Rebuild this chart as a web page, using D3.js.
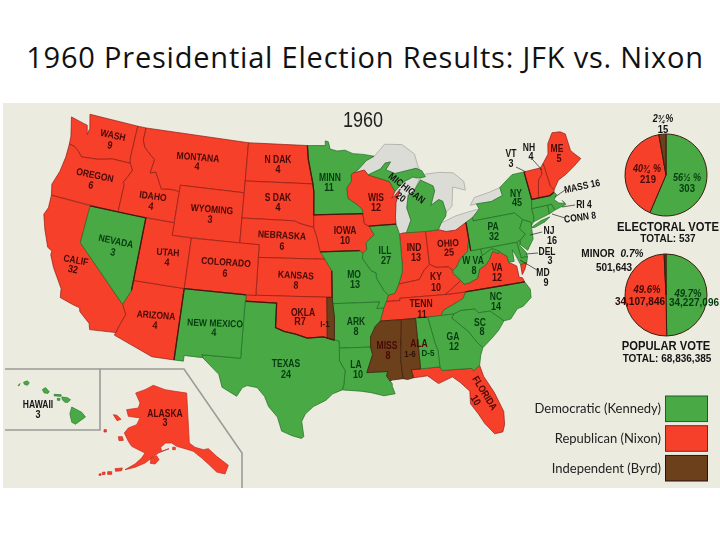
<!DOCTYPE html>
<html>
<head>
<meta charset="utf-8">
<script src="https://cdn.jsdelivr.net/npm/d3@7"></script>
<style>
body { margin: 0; background: #fff; }
svg { display: block; }
text { font-family: "Liberation Sans", sans-serif; }
</style>
</head>
<body>
<svg width="720" height="540"></svg>
<script>
// state outlines, [lon, lat]
const WA = [[-124.7,48.38],[-124.1,46.9],[-124,46.27],[-123.4,46.2],[-122.8,45.9],[-122.3,45.55],[-121.2,45.65],[-120.5,45.7],[-119.3,45.93],[-118.98,46],[-116.92,45.99],[-117.04,46.42],[-117.03,49],[-122.75,49],[-122.3,47.9],[-122.4,47.4],[-122.7,48.1],[-123.1,48.15]];
const OR = [[-124,46.27],[-123.95,45.2],[-124.1,44],[-124.5,42.84],[-124.2,42],[-117.03,42],[-117.03,44.25],[-117.2,44.4],[-116.85,44.9],[-116.5,45.5],[-116.92,45.99],[-118.98,46],[-119.3,45.93],[-120.5,45.7],[-121.2,45.65],[-122.3,45.55],[-122.8,45.9],[-123.4,46.2]];
const ID = [[-117.03,49],[-116.05,49],[-116.05,48],[-115.7,47.45],[-114.8,46.9],[-114.35,46.65],[-114.55,45.55],[-113.95,45.7],[-113.45,45.05],[-113,44.45],[-112.3,44.55],[-111.5,44.55],[-111.05,44.48],[-111.05,42],[-117.03,42],[-117.03,44.25],[-117.2,44.4],[-116.85,44.9],[-116.5,45.5],[-116.92,45.99],[-117.04,46.42]];
const MT = [[-116.05,49],[-104.05,49],[-104.05,45],[-111.05,45],[-111.05,44.48],[-111.5,44.55],[-112.3,44.55],[-113,44.45],[-113.45,45.05],[-113.95,45.7],[-114.55,45.55],[-114.35,46.65],[-114.8,46.9],[-115.7,47.45],[-116.05,48]];
const WY = [[-111.05,45],[-104.05,45],[-104.05,41],[-111.05,41]];
const ND = [[-104.05,49],[-97.23,49],[-97.1,47.9],[-96.85,47],[-96.56,45.94],[-104.05,45.94]];
const SD = [[-104.05,45.94],[-96.56,45.94],[-96.45,45.3],[-96.45,43.5],[-96.45,42.5],[-97.9,42.8],[-98.5,43],[-104.05,43]];
const NE = [[-104.05,43],[-98.5,43],[-97.9,42.8],[-96.45,42.5],[-96.1,41.7],[-95.9,41],[-95.3,40],[-102.05,40],[-102.05,41],[-104.05,41]];
const KS = [[-102.05,40],[-95.3,40],[-94.62,39.1],[-94.62,37],[-102.05,37]];
const OK = [[-103,37],[-94.62,37],[-94.43,35.4],[-94.48,33.64],[-95.5,33.9],[-97,33.8],[-98.1,34.1],[-99.2,34.3],[-100,34.56],[-100,36.5],[-103,36.5]];
const OKByrd = [[-95.15,37],[-94.62,37],[-94.43,35.4],[-94.48,33.64],[-95.15,33.8]];
const TX = [[-103.04,36.5],[-100,36.5],[-100,34.56],[-99.2,34.3],[-98.1,34.1],[-97,33.8],[-95.5,33.9],[-94.48,33.64],[-94.04,33.55],[-94.04,31.99],[-93.55,31.2],[-93.7,30.1],[-93.85,29.7],[-94.7,29.4],[-95.3,28.9],[-96.4,28.4],[-97.1,27.8],[-97.4,27.2],[-97.2,26],[-97.4,25.85],[-98.2,26.05],[-99.1,26.4],[-99.5,27.5],[-100.3,28.3],[-100.7,29.1],[-101.4,29.77],[-102.3,29.88],[-102.7,29.7],[-103.15,28.98],[-104.5,29.6],[-104.9,30.6],[-106.5,31.78],[-106.6,32],[-103.06,32]];
const NM = [[-109.05,37],[-103,37],[-103,36.5],[-103.04,36.5],[-103.06,32],[-106.6,32],[-106.5,31.78],[-108.2,31.78],[-108.2,31.33],[-109.05,31.33]];
const AZ = [[-114.05,37],[-109.05,37],[-109.05,31.33],[-111.07,31.33],[-114.8,32.5],[-114.72,32.72],[-114.5,33.4],[-114.15,34.27],[-114.63,35],[-114.05,36.2]];
const UT = [[-114.05,42],[-111.05,42],[-111.05,41],[-109.05,41],[-109.05,37],[-114.05,37]];
const CO = [[-109.05,41],[-102.05,41],[-102.05,37],[-109.05,37]];
const NV = [[-120,42],[-114.05,42],[-114.05,36.2],[-114.63,35],[-120,39]];
const CA = [[-124.2,42],[-120,42],[-120,39],[-114.63,35],[-114.15,34.27],[-114.5,33.4],[-114.72,32.72],[-117.12,32.53],[-117.3,33],[-118.4,33.75],[-118.5,34.03],[-119.2,34.15],[-120.5,34.45],[-120.65,35.15],[-121.9,36.6],[-122.5,37.5],[-122.5,37.8],[-123,38],[-123.8,39.3],[-124.35,40.4],[-124.1,41]];
const MN = [[-97.23,49],[-95.15,49],[-95.15,49.38],[-94.8,49.3],[-94.6,48.72],[-93.8,48.55],[-92.9,48.6],[-92,48.3],[-90.8,48.2],[-89.6,48],[-90.5,47.7],[-91.5,47],[-92.1,46.75],[-92.3,46.66],[-92.3,46.1],[-92.85,45.6],[-92.75,44.75],[-91.9,44.3],[-91.25,43.85],[-91.22,43.5],[-96.45,43.5],[-96.45,45.3],[-96.56,45.94],[-96.85,47],[-97.1,47.9]];
const IA = [[-96.45,43.5],[-91.22,43.5],[-91.1,42.7],[-90.64,42.5],[-90.15,41.8],[-91.05,41.2],[-91,40.7],[-91.42,40.38],[-91.73,40.61],[-95.77,40.58],[-95.9,41],[-96.1,41.7],[-96.45,42.5]];
const MO = [[-95.77,40.58],[-91.73,40.61],[-91.42,40.38],[-91.5,40],[-90.7,39],[-90.2,38.8],[-90.2,38.4],[-89.5,37.3],[-89.15,37],[-89.4,36.5],[-89.7,36],[-90.37,36],[-90.05,36.5],[-94.62,36.5],[-94.62,39.1],[-95.3,40]];
const AR = [[-94.62,36.5],[-90.05,36.5],[-90.37,36],[-89.7,36],[-90.1,35],[-90.6,34.6],[-91.1,33.8],[-91.15,33],[-94.04,33],[-94.04,33.55],[-94.48,33.64],[-94.43,35.4]];
const LA = [[-94.04,33],[-91.15,33],[-91,32.4],[-91.6,31],[-89.73,31],[-89.85,30.65],[-89.55,30.2],[-89.4,30.05],[-89.4,29.8],[-89.2,29.2],[-90.2,29.1],[-91.3,29.4],[-92.2,29.55],[-93.85,29.7],[-93.7,30.1],[-93.55,31.2],[-94.04,31.99]];
const MS = [[-90.1,35],[-88.2,35],[-88.1,34.9],[-88.47,31.9],[-88.4,30.35],[-89.4,30.3],[-89.55,30.2],[-89.85,30.65],[-89.73,31],[-91.6,31],[-91,32.4],[-91.15,33],[-91.1,33.8],[-90.6,34.6]];
const ALByrd = [[-88.2,35],[-86.75,35],[-86.75,31],[-87.6,31],[-87.45,30.35],[-88,30.25],[-88.4,30.35],[-88.47,31.9],[-88.1,34.9]];
const ALKennedy = [[-86.75,35],[-85.6,35],[-85.18,32.87],[-85,32.3],[-85,31],[-86.75,31]];
const GA = [[-85.6,35],[-83.1,35],[-83.35,34.7],[-82,33.5],[-81.4,32.6],[-80.9,32.05],[-81.2,31.5],[-81.45,30.72],[-82.05,30.36],[-82.2,30.57],[-84.86,30.7],[-85,31],[-85,32.3],[-85.18,32.87]];
const FL = [[-87.6,31],[-85,31],[-84.86,30.7],[-82.2,30.57],[-82.05,30.36],[-81.45,30.72],[-81.25,29.8],[-80.55,28.4],[-80.03,26.8],[-80.15,25.75],[-80.4,25.2],[-81.1,25.15],[-81.8,26.1],[-82.2,26.9],[-82.75,27.8],[-82.65,28.8],[-83.4,29.6],[-84,30.1],[-85.3,29.7],[-86.2,30.4],[-87.45,30.35]];
const SC = [[-83.1,35],[-82.4,35.2],[-81.05,35.15],[-80.8,34.82],[-79.67,34.8],[-78.55,33.86],[-79.2,33.2],[-79.9,32.7],[-80.9,32.05],[-81.4,32.6],[-82,33.5],[-83.35,34.7]];
const NC = [[-84.32,35],[-83.1,35],[-82.4,35.2],[-81.05,35.15],[-80.8,34.82],[-79.67,34.8],[-78.55,33.86],[-77.9,33.9],[-77.1,34.6],[-76.5,34.7],[-75.6,35.25],[-75.5,35.9],[-75.87,36.55],[-81.68,36.59],[-82,36.1],[-83,35.75],[-84,35.4]];
const TN = [[-90.1,35],[-88.2,35],[-85.6,35],[-84.32,35],[-84,35.4],[-83,35.75],[-82,36.1],[-81.68,36.59],[-83.68,36.6],[-88.07,36.68],[-88.07,36.5],[-89.4,36.5],[-89.7,36]];
const KY = [[-89.4,36.5],[-88.07,36.5],[-88.07,36.68],[-83.68,36.6],[-82.9,37],[-81.96,37.54],[-82.6,38.17],[-82.6,38.4],[-83,38.72],[-84.2,38.8],[-84.82,39.1],[-85.4,38.7],[-86,38],[-87,37.9],[-88.05,37.8],[-88.5,37.1],[-89.15,37]];
const WV = [[-82.6,38.4],[-82.6,38.17],[-81.96,37.54],[-81.7,37.2],[-81.2,37.25],[-80.3,37.5],[-79.95,38.2],[-79.3,38.42],[-78.85,38.77],[-78.35,39.4],[-77.83,39.13],[-77.72,39.32],[-78.4,39.62],[-79.48,39.2],[-79.48,39.72],[-80.52,39.72],[-80.52,40.64],[-80.85,39.7],[-81.7,39.2],[-82.2,38.6]];
const VA = [[-83.68,36.6],[-81.68,36.59],[-75.87,36.55],[-76,36.9],[-76.3,37],[-76.3,37.9],[-77,38.3],[-77.05,38.8],[-77.5,39.1],[-77.72,39.32],[-77.83,39.13],[-78.35,39.4],[-78.85,38.77],[-79.3,38.42],[-79.95,38.2],[-80.3,37.5],[-81.2,37.25],[-81.7,37.2],[-81.96,37.54],[-82.9,37]];
const VATail = [[-75.95,37.15],[-75.9,37.95],[-75.25,38.03],[-75.6,37.5]];
const OH = [[-84.82,39.1],[-84.2,38.8],[-83,38.72],[-82.6,38.4],[-82.2,38.6],[-81.7,39.2],[-80.85,39.7],[-80.52,40.64],[-80.52,41.98],[-81.7,41.5],[-82.7,41.5],[-83.47,41.72],[-84.8,41.7]];
const IN = [[-88.05,37.8],[-87,37.9],[-86,38],[-85.4,38.7],[-84.82,39.1],[-84.8,41.76],[-87.2,41.76],[-87.53,41.7],[-87.53,39.35],[-87.6,38.7]];
const IL = [[-91.5,40],[-91.42,40.38],[-91,40.7],[-91.05,41.2],[-90.15,41.8],[-90.64,42.5],[-87.8,42.5],[-87.53,41.7],[-87.53,39.35],[-87.6,38.7],[-88.05,37.8],[-88.5,37.1],[-89.15,37],[-89.5,37.3],[-90.2,38.4],[-90.2,38.8],[-90.7,39]];
const WI = [[-92.3,46.66],[-92.1,46.75],[-90.8,46.95],[-90.4,46.55],[-88.1,45.9],[-87.6,45.1],[-88,44.55],[-87.6,44.8],[-87,45.25],[-87.6,44.2],[-87.8,43],[-87.8,42.5],[-90.64,42.5],[-91.1,42.7],[-91.22,43.5],[-91.25,43.85],[-91.9,44.3],[-92.75,44.75],[-92.85,45.6],[-92.3,46.1]];
const MILower = [[-84.8,41.7],[-83.47,41.72],[-83.1,42.2],[-82.5,42.7],[-82.4,43],[-82.6,43.9],[-83,44.07],[-83.9,43.7],[-83.3,44.8],[-83.4,45.2],[-84.7,45.78],[-85.5,45],[-86.2,44.7],[-86.5,43.7],[-86.2,42.7],[-86.8,41.76]];
const MIUpper = [[-90.4,46.55],[-89,46.95],[-88.4,47.4],[-87.8,47.45],[-88.4,46.85],[-87.4,46.5],[-85,46.75],[-84.4,46.5],[-84.1,46],[-84.7,45.95],[-85.5,46.08],[-86.5,45.8],[-87.6,45.1],[-88.1,45.9]];
const NY = [[-79.76,42.27],[-79.76,42],[-75.35,42],[-74.7,41.36],[-73.9,41],[-74,40.7],[-73.65,41],[-73.5,41.3],[-73.5,42.05],[-73.27,42.75],[-73.35,45],[-74.7,45],[-76.3,44.2],[-76.2,43.55],[-77.5,43.25],[-79.1,43.28],[-78.9,42.85]];
const LongIsland = [[-74,40.6],[-72.9,40.95],[-71.9,41.08],[-72.5,40.8],[-73.7,40.55]];
const PA = [[-80.52,41.98],[-79.76,42.27],[-79.76,42],[-75.35,42],[-74.7,41.36],[-75.2,40.7],[-74.75,40.2],[-75.4,39.82],[-75.8,39.72],[-80.52,39.72]];
const NJ = [[-74.7,41.36],[-73.9,41],[-74,40.5],[-74.1,39.7],[-74.9,38.93],[-75.5,39.5],[-75.4,39.82],[-74.75,40.2],[-75.2,40.7]];
const DE = [[-75.8,39.72],[-75.4,39.82],[-75.55,39.4],[-75.1,38.8],[-75.05,38.45],[-75.7,38.45]];
const MD = [[-79.48,39.72],[-75.8,39.72],[-75.7,38.45],[-75.05,38.45],[-75.25,38.03],[-75.9,37.95],[-76.2,38.8],[-76.4,39.2],[-76.45,38.3],[-77,38.3],[-77.05,38.8],[-77.5,39.1],[-77.72,39.32],[-78.4,39.62],[-79.48,39.2]];
const CT = [[-73.5,42.05],[-71.8,42.02],[-71.85,41.32],[-73.65,41],[-73.5,41.3]];
const RI = [[-71.8,42.02],[-71.38,42.02],[-71.2,41.5],[-71.85,41.32]];
const MA = [[-73.5,42.05],[-73.27,42.75],[-71.3,42.7],[-70.8,42.87],[-70.6,42.65],[-71,42.3],[-70.6,41.95],[-70,41.8],[-70.2,42.08],[-69.95,41.7],[-70.6,41.6],[-71.2,41.5],[-71.38,42.02],[-71.8,42.02]];
const VT = [[-73.35,45],[-71.5,45],[-71.5,44.5],[-72.05,44.1],[-72.45,43],[-72.46,42.73],[-73.27,42.75]];
const NH = [[-71.5,45],[-71.08,45.3],[-70.98,43.4],[-70.7,43.07],[-70.8,42.87],[-71.3,42.7],[-72.46,42.73],[-72.45,43],[-72.05,44.1],[-71.5,44.5]];
const ME = [[-71.08,45.3],[-70.3,45.9],[-70,46.7],[-69.2,47.45],[-68.3,47.35],[-67.8,47.07],[-67.8,45.7],[-67.45,45.3],[-67,44.85],[-68,44.4],[-69,44],[-70,43.7],[-70.7,43.07],[-70.98,43.4]];

// great lakes
const Superior = [[-92.1,46.75],[-90.8,46.95],[-90.4,46.55],[-89,46.95],[-88.4,47.4],[-87.8,47.45],[-88.4,46.85],[-87.4,46.5],[-85,46.75],[-84.6,46.5],[-84.8,47],[-85,47.9],[-86.3,48.75],[-88.3,48.9],[-89,48.4],[-89.6,48],[-90.5,47.7],[-91.5,47]];
const Michigan = [[-87.6,45.1],[-86.5,45.8],[-85.5,46.08],[-84.8,45.85],[-85.5,45],[-86.2,44.7],[-86.5,43.7],[-86.2,42.7],[-86.8,41.76],[-87.2,41.65],[-87.53,41.7],[-87.8,42.5],[-87.8,43],[-87.6,44.2],[-87,45.25],[-87.6,44.8],[-88,44.55]];
const Huron = [[-84.7,45.78],[-83.4,45.2],[-83.3,44.8],[-83.9,43.7],[-83,44.07],[-82.6,43.9],[-82.4,43],[-81.7,43.4],[-81.3,44.9],[-80,44.5],[-80,45.2],[-81,46],[-82.5,46.2],[-84,46.2],[-84.7,45.95]];
const Erie = [[-83.47,41.72],[-82.7,41.5],[-81.7,41.5],[-80.52,41.98],[-79.76,42.27],[-78.9,42.85],[-80.2,42.75],[-81.5,42.6],[-83.1,42.2]];
const Ontario = [[-79.75,43.25],[-79.1,43.28],[-77.5,43.25],[-76.2,43.55],[-76.3,44.2],[-77.5,44],[-79.2,43.8]];

// alaska is printed distorted, so it is traced on its own 420 x 300 grid
const Alaska = [[150,35],[175,22],[210,35],[240,40],[275,45],[283,195],[300,208],[325,215],[340,212],[365,235],[400,262],[390,288],[365,282],[340,258],[320,240],[295,220],[270,212],[245,205],[230,195],[212,195],[197,208],[200,220],[222,212],[190,225],[170,240],[150,255],[120,268],[90,275],[120,258],[140,240],[150,225],[130,215],[110,205],[100,190],[88,165],[100,150],[125,140],[135,120],[100,115],[95,95],[130,90],[135,75],[122,45]];
const Kodiak = [[168,240],[185,233],[192,245],[180,258],[166,256]];
const Nunivak = [[70,176],[82,176],[85,187],[72,188]];
const StLawrence = [[55,110],[66,112],[78,124],[66,128]];
const Pribilof = [[27,155],[34,155],[34,162],[27,162]];
const Aleutians = [[[60,272],[82,270],[80,278],[62,280]],[[38,281],[50,281],[50,289],[38,289]],[[22,283],[30,282],[30,289],[22,290]],[[12,288],[18,287],[18,292],[12,292]],[[233,208],[241,208],[241,215],[233,215]]];

const Kauai = [[-159.75,22.1],[-159.45,22.2],[-159.3,22.05],[-159.45,21.87],[-159.7,21.95]];
const Niihau = [[-160.2,21.85],[-160.05,22],[-160.1,21.85]];
const Oahu = [[-158.25,21.55],[-158,21.7],[-157.7,21.4],[-157.8,21.27],[-158.1,21.3]];
const Molokai = [[-157.3,21.2],[-156.75,21.17],[-156.75,21.05],[-157.3,21.08]];
const Lanai = [[-157.05,20.9],[-156.85,20.9],[-156.85,20.75],[-157.05,20.75]];
const Maui = [[-156.7,21],[-156.25,20.95],[-156,20.8],[-156.2,20.6],[-156.45,20.6],[-156.65,20.8]];
const BigIsland = [[-155.9,20.25],[-155.1,19.85],[-154.8,19.5],[-155.6,18.95],[-155.9,19.1],[-156.05,19.75]];

// who carried what
const kennedyStates = [MN,MO,AR,LA,TX,NM,NV,IL,MILower,MIUpper,WV,NC,SC,GA,ALKennedy,NY,LongIsland,PA,NJ,DE,MD,CT,RI,MA];
const nixonStates = [WA,OR,ID,MT,WY,ND,SD,NE,KS,OK,AZ,UT,CO,CA,IA,WI,IN,OH,KY,TN,VA,VATail,FL,VT,NH,ME];
const byrdStates = [OKByrd,MS,ALByrd];
const lakes = [Superior,Michigan,Huron,Erie,Ontario];
const alaskaShapes = [Alaska,Kodiak,Nunivak,StLawrence,Pribilof].concat(Aleutians);
const hawaiiShapes = [Kauai,Niihau,Oahu,Molokai,Lanai,Maui,BigIsland];

// borders that print heavy where red sits against green
const heavyBorders = [
    [[-120,42],[-114.05,42],[-114.05,36.2]],
    [[-109.05,37],[-109.05,31.33]],
    [[-109.05,37],[-103,37]],
    [[-97.23,49],[-97.1,47.9],[-96.85,47],[-96.56,45.94],[-96.45,45.3],[-96.45,43.5],[-91.22,43.5]],
    [[-95.77,40.58],[-91.73,40.61]],
    [[-94.62,39.1],[-94.62,37]],
    [[-81.68,36.59],[-75.87,36.55]],
    [[-103,36.5],[-100,36.5],[-100,34.56],[-99.2,34.3],[-98.1,34.1],[-97,33.8],[-95.5,33.9],[-94.48,33.64]],
    [[-90.64,42.5],[-87.8,42.5]],
    [[-73.35,45],[-73.27,42.75],[-71.3,42.7],[-70.8,42.87]],
    [[-80.52,39.72],[-80.52,41.98]]
];

// pies
const electoralVotes = [303, 219, 15];
const popularVotes = [34227096, 34107846, 501643];
const parties = ["Democratic (Kennedy)", "Republican (Nixon)", "Independent (Byrd)"];

// state labels
const stateNames = ["WASH","OREGON","CALIF","NEVADA","IDAHO","MONTANA","WYOMING","UTAH","COLORADO","ARIZONA","NEW MEXICO","N DAK","S DAK","NEBRASKA","KANSAS","OKLA","TEXAS","MINN","IOWA","WIS","ILL","MO","ARK","LA","MISS","ALA","TENN","KY","IND","OHIO","W VA","VA","NC","SC","GA","PA","NY","VT","NH","ME","NJ","DEL","MD","HAWAII","ALASKA"];
const stateVotes = ["9","6","32","3","4","4","3","4","6","4","4","4","4","6","8","R7","24","11","10","12","27","13","8","10","8","","11","10","13","25","8","12","14","8","12","32","45","3","4","5","16","3","9","3","3"];
const nameSpots = [[113,135,12],[95,175,12],[76,260,10],[116,241,12],[153,196,8],[198,157,5],[212,209,5],[168,252,4],[226,262,4],[156,315,4],[215,323,2],[278,159,0],[278,197,0],[282,235,3],[296,275,3],[303,312,0],[286,363,0],[330,177,0],[345,230,0],[376,197,0],[385,250,0],[354,274,0],[356,321,0],[356,364,0],[387,345,0],[419,343,0],[421,303,0],[436,276,0],[414,247,0],[448,243,-3],[473,260,0],[497,267,0],[496,296,0],[480,322,0],[453,336,0],[493,226,0],[516,193,0],[511,153,0],[529,147,0],[557,148,0],[549,230,0],[547,251,0],[543,272,0],[38,404,0],[165,413,0]];
const voteSpots = [[110,145],[91,185],[73,269],[113,252],[151,206],[197,166],[210,219],[167,262],[225,273],[155,325],[214,332],[278,169],[278,207],[282,246],[296,285],[300,321],[286,374],[329,187],[345,240],[376,207],[386,260],[355,284],[356,331],[358,374],[388,355],[0,0],[422,314],[436,287],[416,257],[449,252],[474,270],[497,277],[496,306],[482,331],[454,346],[494,236],[517,202],[511,163],[531,156],[559,158],[552,240],[550,260],[546,282],[38,414],[165,422]];
const greenTextStates = ["NEVADA","NEW MEXICO","TEXAS","MINN","ILL","MO","ARK","LA","W VA","NC","SC","GA","PA","NY"];
const blackTextStates = ["VT","NH","NJ","DEL","MD","HAWAII"];

// leader lines for the small eastern states
const leaders = [[516,167,526,172],[533,160,542,170],[555,197,565,190],[562,207,575,205],[552,214,565,218],[530,235,542,232],[526,254,538,253],[520,260,537,270]];

const colors = { green: "#48aa45", red: "#f63f2c", brown: "#6d3f1f", paper: "#ecebe0", lake: "#dcdcd7" };
const inkRed = "#470806", inkGreen = "#063a10", inkBlack = "#141414";

const svg = d3.select("svg");

svg.append("defs").append("filter").attr("id", "soft")
    .append("feGaussianBlur").attr("stdDeviation", 0.35);

svg.append("text")
    .attr("x", 365).attr("y", 68)
    .attr("text-anchor", "middle")
    .style("font-family", "'Open Sans'")
    .style("font-size", "29px")
    .style("letter-spacing", "0.8px")
    .style("fill", "#111")
    .text("1960 Presidential Election Results: JFK vs. Nixon");

svg.append("rect")
    .attr("x", 3).attr("y", 103).attr("width", 717).attr("height", 385)
    .attr("fill", colors.paper);

// the printed map is a little squashed vertically against plain albers
const projection = d3.geoConicEqualArea()
    .parallels([29.5, 45.5])
    .rotate([96, 0])
    .center([0, 38])
    .scale(745)
    .translate([318, 280]);
const squash = d3.scaleLinear().domain([0, 540]).range([13.1, 537]);
const mainland = function(p) {
    const xy = projection(p);
    return [xy[0], squash(xy[1])];
};

const alaskaX = d3.scaleLinear().domain([0, 420]).range([95, 235]);
const alaskaY = d3.scaleLinear().domain([0, 300]).range([378, 478]);
const alaskaGrid = function(p) { return [alaskaX(p[0]), alaskaY(p[1])]; };

const hawaiiProjection = d3.geoMercator()
    .center([-157, 20.7])
    .scale(716)
    .translate([58, 401]);

function outline(project) {
    return d3.line().x(function(d) { return project(d)[0]; }).y(function(d) { return project(d)[1]; }).curve(d3.curveLinearClosed);
}

const map = svg.append("g").attr("filter", "url(#soft)");

// inset frames
const frames = [[[5,369],[100,369],[100,430],[5,430]], [[100,369],[184,369],[242,453],[242,488]]];
map.selectAll("path.frame")
    .data(frames)
    .enter()
    .append("path")
    .attr("class", "frame")
    .attr("d", d3.line())
    .attr("fill", "none")
    .attr("stroke", "#9a9c98")
    .attr("stroke-width", 1.6);

map.selectAll("path.lake")
    .data(lakes)
    .enter()
    .append("path")
    .attr("class", "lake")
    .attr("d", outline(mainland))
    .attr("fill", colors.lake)
    .attr("stroke", "#b0b0aa")
    .attr("stroke-width", 0.9);

function drawStates(list, project, fill, edge) {
    map.append("g").selectAll("path")
        .data(list)
        .enter()
        .append("path")
        .attr("d", outline(project))
        .attr("fill", fill)
        .attr("stroke", edge)
        .attr("stroke-width", 0.7)
        .attr("stroke-linejoin", "round");
}

drawStates(nixonStates, mainland, colors.red, "#8e1d12");
drawStates(kennedyStates, mainland, colors.green, "#1f6d22");
drawStates(byrdStates, mainland, colors.brown, "#3a1d0c");
drawStates(alaskaShapes, alaskaGrid, colors.red, "#c62a1c");
drawStates(hawaiiShapes, function(p) { return hawaiiProjection(p); }, colors.green, "#2a7d2a");

map.selectAll("path.heavy")
    .data(heavyBorders)
    .enter()
    .append("path")
    .attr("class", "heavy")
    .attr("d", d3.line().x(function(d) { return mainland(d)[0]; }).y(function(d) { return mainland(d)[1]; }))
    .attr("fill", "none")
    .attr("stroke", "#4e120a")
    .attr("stroke-width", 1.3);

// printed lettering is tall and condensed, so squeeze the font sideways
function label(text, x, y, size, fill, angle, anchor, weight, italic) {
    svg.append("text")
        .attr("transform", "translate(" + x + "," + y + ") rotate(" + (angle || 0) + ") scale(0.85,1)")
        .attr("dy", "0.35em")
        .attr("text-anchor", anchor || "middle")
        .style("font-size", (size * 1.18) + "px")
        .style("font-weight", weight || "bold")
        .style("font-style", italic ? "italic" : "normal")
        .style("fill", fill)
        .text(text);
}

function stateInk(name) {
    if (blackTextStates.indexOf(name) >= 0) return inkBlack;
    if (greenTextStates.indexOf(name) >= 0) return inkGreen;
    return inkRed;
}

stateNames.forEach(function(name, i) {
    const s = nameSpots[i], v = voteSpots[i];
    label(name, s[0], s[1], 8.5, stateInk(name), s[2]);
    if (stateVotes[i]) label(stateVotes[i], v[0], v[1], 9, stateInk(name), s[2]);
});

// labels that do not fit the table
label("I-1", 325, 324, 8, "#2a1208");
label("1-6", 410, 354, 8, "#2a1208");
label("D-5", 428, 353, 8, inkGreen);
label("MICHIGAN", 407, 188, 8.5, inkBlack, 38);
label("20", 401, 197, 8.5, inkBlack, 38);
label("FLORIDA", 485, 393, 8.5, inkRed, 58);
label("10", 476, 400, 9, inkRed, 58);
label("MASS 16", 582, 186, 8.5, inkBlack, -12);
label("RI 4", 584, 204, 8.5, inkBlack, 0);
label("CONN 8", 580, 217, 8.5, inkBlack, -8);

svg.selectAll("line.leader")
    .data(leaders)
    .enter()
    .append("line")
    .attr("class", "leader")
    .attr("x1", function(d) { return d[0]; })
    .attr("y1", function(d) { return d[1]; })
    .attr("x2", function(d) { return d[2]; })
    .attr("y2", function(d) { return d[3]; })
    .attr("stroke", "#222")
    .attr("stroke-width", 0.7);

label("1960", 363, 120, 18, "#222", 0, "middle", "normal");

// pies, kennedy clockwise from twelve o'clock
const pie = d3.pie().sort(null);
const arc = d3.arc().innerRadius(0).outerRadius(41);
const pieFill = [colors.green, colors.red, colors.brown];

function drawPie(values, cx, cy) {
    map.append("g")
        .attr("transform", "translate(" + cx + "," + cy + ")")
        .selectAll("path")
        .data(pie(values))
        .enter()
        .append("path")
        .attr("d", arc)
        .attr("fill", function(d, i) { return pieFill[i]; })
        .attr("stroke", "#3a1d0c")
        .attr("stroke-width", 1);
}
drawPie(electoralVotes, 666, 175);
drawPie(popularVotes, 666, 295);

label("2¾%", 663, 118, 9, inkBlack, 0, "middle", "bold", true);
label("15", 663, 129, 9.5, inkBlack);
label("40¾ %", 647, 168, 9, inkRed, 0, "middle", "bold", true);
label("219", 648, 179, 9.5, inkRed);
label("56½ %", 687, 177, 9, inkGreen, 0, "middle", "bold", true);
label("303", 687, 188, 9.5, inkGreen);
label("ELECTORAL VOTE", 668, 226, 11.2, inkBlack);
label("TOTAL: 537", 668, 238, 10, inkBlack);
label("MINOR", 598, 253, 10, inkBlack);
label("0.7%", 632, 253, 10, inkBlack, 0, "middle", "bold", true);
label("501,643", 614, 267, 10, inkBlack);
label("49.6%", 647, 289, 9.5, inkRed, 0, "middle", "bold", true);
label("34,107,846", 640, 301, 10, "#2e0a05");
label("49.7%", 688, 293, 9.5, inkGreen, 0, "middle", "bold", true);
label("34,227,096", 694, 302, 10, inkGreen);
label("POPULAR VOTE", 666, 345, 11.2, inkBlack);
label("TOTAL: 68,836,385", 667, 358, 10, inkBlack);

// legend
const legendY = d3.scaleBand().domain(parties).range([396, 481]).paddingInner(0.14);
parties.forEach(function(party, i) {
    map.append("rect")
        .attr("x", 665.5).attr("y", legendY(party))
        .attr("width", 42).attr("height", legendY.bandwidth())
        .attr("fill", pieFill[i])
        .attr("stroke", i == 2 ? "#2a1208" : (i == 0 ? "#1f5f25" : "#8e1d12"))
        .attr("stroke-width", 1);
    svg.append("text")
        .attr("x", 661).attr("y", legendY(party) + legendY.bandwidth() / 2)
        .attr("dy", "0.35em")
        .attr("text-anchor", "end")
        .style("font-family", "Lato")
        .style("font-size", "13px")
        .style("fill", "#222")
        .text(party);
});
</script>
</body>
</html>
